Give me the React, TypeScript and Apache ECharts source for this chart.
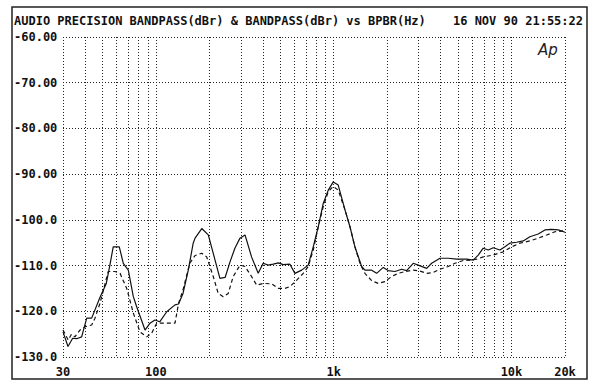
import React, { useEffect, useRef } from "react";
import * as echarts from "echarts";

// Frequencies (Hz) and levels (dBr)
const solidFreq = [
  30, 32, 34, 35.8, 38.2, 40.8, 43.5, 48.4, 52.5, 55, 57.5, 62.2, 65.5, 69.9, 74.6, 77.9, 86.8, 92.6,
  98.7, 105, 115, 128, 134, 142, 152, 162, 166, 181, 197, 215, 229, 245, 261, 278, 297, 317, 345,
  376, 401, 428, 457, 488, 520, 567, 605, 660, 719, 767, 819, 873, 932, 994, 1060, 1157, 1234,
  1316, 1436, 1498, 1635, 1744, 1899, 2026, 2210, 2411, 2571, 2801, 2988, 3333, 3555, 3960, 4407,
  4914, 5593, 6091, 6500, 6936, 7400, 7893, 8610, 9184, 9797, 10686, 11644, 12694, 14136, 15424,
  16821, 18322, 20000,
];
const solidDb = [
  -124.5, -127.7, -125.9, -126.0, -125.6, -121.5, -121.5, -117.0, -114.0, -110.0, -105.9, -105.9,
  -109.5, -111.0, -116.8, -119.0, -124.1, -122.6, -121.9, -122.3, -120.1, -118.6, -118.4, -116.1,
  -111.0, -105.1, -104.0, -101.9, -103.3, -108.8, -112.8, -112.6, -109.2, -106.2, -104.0, -103.3,
  -108.1, -111.7, -109.5, -109.9, -109.7, -109.4, -109.8, -109.7, -111.7, -111.0, -109.9, -105.9,
  -101.5, -96.4, -93.5, -91.7, -92.4, -97.8, -101.5, -105.9, -110.2, -111.0, -111.0, -111.7,
  -110.4, -111.1, -111.3, -110.8, -111.1, -109.5, -109.9, -110.6, -109.5, -108.4, -108.4, -108.6,
  -108.6, -108.8, -107.7, -106.2, -106.6, -106.1, -106.6, -105.9, -105.1, -104.9, -104.6, -103.7,
  -103.1, -102.2, -102.1, -102.2, -102.7,
];

const dashedFreq = [
  30, 32.1, 33.5, 35, 37.4, 39.9, 43.5, 45.4, 48.4, 53.9, 58.8, 62.8, 68.5, 74.6, 81.3, 88.7, 94.6,
  101, 110, 128, 134, 142, 155, 166, 181, 193, 210, 224, 239, 255, 272, 297, 317, 345, 369, 401,
  448, 488, 532, 567, 619, 674, 719, 767, 819, 873, 932, 994, 1060, 1157, 1234, 1316, 1405, 1498,
  1635, 1780, 1941, 2117, 2307, 2516, 2801, 3055, 3333, 3630, 3960, 4407, 4806, 5353, 5838, 6366,
  6936, 7893, 8985, 10016, 11155, 12694, 14136, 15767, 17557, 19545,
];
const dashedDb = [
  -124.1, -126.3, -125.0, -125.6, -124.1, -123.4, -123.0, -121.5, -118.3, -111.3, -111.3, -111.7,
  -115.0, -120.4, -124.5, -125.6, -124.8, -122.6, -122.6, -122.6, -118.3, -115.3, -109.5, -107.8,
  -107.3, -108.1, -112.4, -116.1, -116.8, -116.1, -112.4, -109.9, -110.2, -112.4, -114.3, -113.9,
  -114.0, -115.0, -115.0, -114.6, -113.2, -111.7, -110.2, -106.6, -101.5, -97.1, -93.8, -92.7,
  -93.5, -97.8, -101.5, -105.9, -109.5, -111.7, -113.3, -113.9, -113.5, -112.4, -111.7, -111.3,
  -111.0, -111.2, -111.7, -111.5, -110.8, -110.2, -109.5, -108.9, -108.8, -108.6, -108.1, -107.7,
  -107.0, -105.9, -105.1, -104.6, -104.0, -103.3, -102.6, -102.4,
];

const gridFreqs = [
  30, 40, 50, 60, 70, 80, 90, 100, 200, 300, 400, 500, 600, 700, 800, 900, 1000, 2000, 3000, 4000,
  5000, 6000, 7000, 8000, 9000, 10000, 20000,
];
const labelFreqs = [30, 100, 1000, 10000, 20000];

const titleText = "AUDIO PRECISION BANDPASS(dBr) & BANDPASS(dBr) vs BPBR(Hz)";
const dateText = "16 NOV 90 21:55:22";

const FONT = "'DejaVu Sans Mono', 'Liberation Mono', monospace";

function fmtFreq(v: number): string {
  const f = Math.round(Math.pow(10, v));
  if (f >= 1000) return Math.round(f / 1000) + "k";
  return String(f);
}

function fmtDb(v: number): string {
  return Math.abs(v) >= 100 ? v.toFixed(1) : v.toFixed(2);
}

export default function App() {
  const ref = useRef<HTMLDivElement>(null);
  useEffect(() => {
    if (!ref.current) return;
    const chart = echarts.init(ref.current, undefined, { renderer: "svg" });
    const gridLine = { show: true, lineStyle: { color: "#222", width: 1, type: [1, 2] as any } };
    chart.setOption({
      animation: false,
      backgroundColor: "#fff",
      grid: { left: 63, right: 35, top: 37, bottom: 31, containLabel: false },
      xAxis: {
        type: "value",
        min: Math.log10(30),
        max: Math.log10(20000),
        axisLine: { show: false },
        axisTick: { show: false, customValues: gridFreqs.map((f) => Math.log10(f)) },
        splitLine: gridLine,
        axisLabel: {
          customValues: labelFreqs.map((f) => Math.log10(f)),
          formatter: (v: number) => fmtFreq(v),
          margin: 9,
          color: "#111",
          fontFamily: FONT,
          fontWeight: "bold",
          fontSize: 12,
        },
      },
      yAxis: {
        type: "value",
        min: -130,
        max: -60,
        interval: 10,
        axisLine: { show: false },
        axisTick: { show: false },
        splitLine: gridLine,
        axisLabel: {
          formatter: (v: number) => fmtDb(v),
          align: "left",
          margin: 49,
          color: "#111",
          fontFamily: FONT,
          fontWeight: "bold",
          fontSize: 12,
          verticalAlign: "middle",
        },
      },
      graphic: [
        {
          type: "rect",
          shape: { x: 12, y: 7, width: 575, height: 372 },
          style: { fill: "none", stroke: "#222", lineWidth: 1.5 },
          silent: true,
        },
        {
          type: "text",
          left: 14,
          top: 15,
          style: { text: titleText, fill: "#111", font: `bold 12px ${FONT}` },
        },
        {
          type: "text",
          right: 17,
          top: 15,
          style: { text: dateText, fill: "#111", font: `bold 12px ${FONT}` },
        },
        {
          type: "text",
          left: 538,
          top: 42,
          style: { text: "Ap", fill: "#222", font: "italic 15px 'DejaVu Sans', sans-serif" },
        },
      ],
      series: [
        {
          type: "line",
          data: solidFreq.map((f, i) => [Math.log10(f), solidDb[i]]),
          symbol: "none",
          lineStyle: { color: "#111", width: 1.2 },
        },
        {
          type: "line",
          data: dashedFreq.map((f, i) => [Math.log10(f), dashedDb[i]]),
          symbol: "none",
          lineStyle: { color: "#111", width: 1.2, type: [4, 3] as any },
        },
      ],
    });
    return () => chart.dispose();
  }, []);
  return (
    <div
      ref={ref}
      style={{ position: "fixed", left: 0, top: 0, width: 600, height: 388, background: "#fff" }}
    />
  );
}
